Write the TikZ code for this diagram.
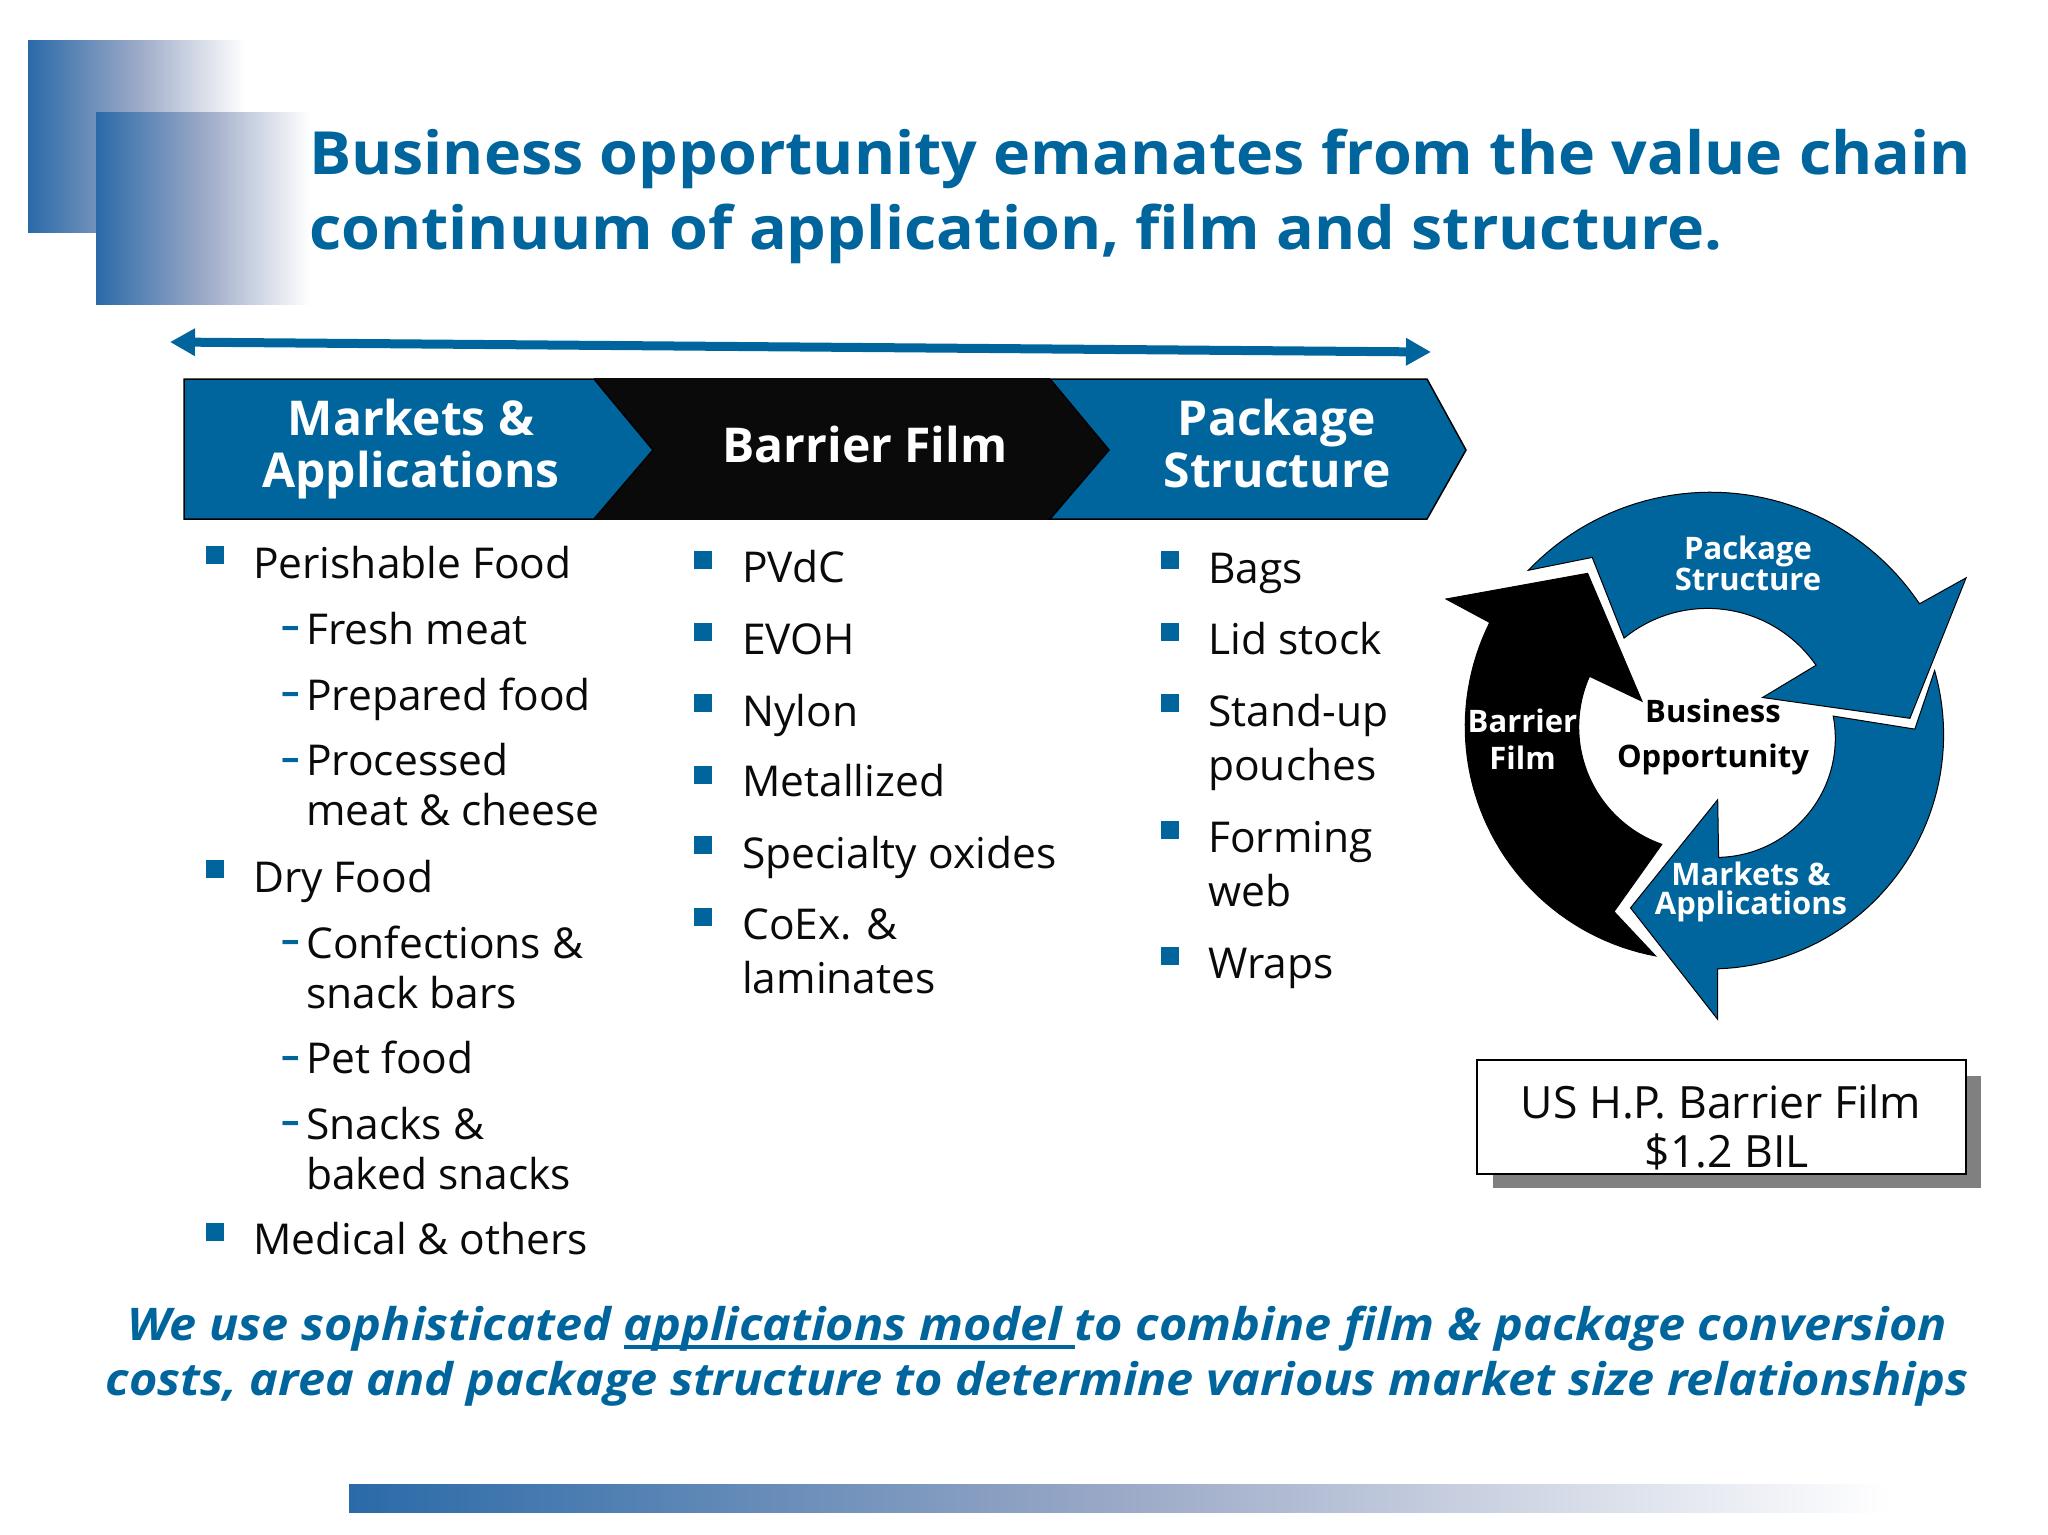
\documentclass[tikz,border=0pt]{standalone}
\usepackage{fontspec}
\setmainfont{Open Sans}
\newfontfamily\titlefont[FakeStretch=1.055]{Open Sans}
\newfontfamily\notefont[FakeStretch=1.08]{Open Sans}
\usetikzlibrary{arrows.meta}
\definecolor{brand}{HTML}{00659C}
\definecolor{grad}{HTML}{2A6AA8}
\definecolor{gradmid}{HTML}{9BA9C7}
\definecolor{ink}{HTML}{0A0A0A}
\newsavebox\ulbox
\newcommand\thickul[1]{\sbox\ulbox{#1}\rlap{\rule[-9pt]{\wd\ulbox}{4.5pt}}\usebox\ulbox}
\tikzset{
  titletext/.style={anchor=west,inner sep=0,text=brand,font=\titlefont\fontsize{59.5}{75}\selectfont\bfseries,align=left},
  chevlabel/.style={inner sep=0,text=white,align=center,font=\fontsize{48}{52}\selectfont\bfseries},
  wheelwhite/.style={inner sep=0,text=white,align=center,font=\fontsize{31}{29}\selectfont\bfseries},
  wheelblack/.style={inner sep=0,text=black,align=center,font=\fontsize{31}{45}\selectfont\bfseries},
  item/.style={anchor=west,inner sep=0,align=left,text=ink,font=\fontsize{42.5}{50}\selectfont,
     execute at begin node=\strut,execute at end node=\strut},
  itemwide/.style={item,font=\fontsize{42.5}{54}\selectfont},
  bulletmark/.style={fill=brand,inner sep=0,minimum size=18},
  dashmark/.style={anchor=west,inner sep=0,text=brand,font=\fontsize{37}{51}\selectfont\bfseries,
     execute at begin node=\strut},
  chev/.style={fill=brand,draw=black,line width=1.5},
  blade/.style={draw=black,line width=1},
  fade/.style={left color=grad,right color=white,middle color=gradmid,draw=none},
}
\begin{document}
\begin{tikzpicture}[x=1pt,y=-1pt]
\useasboundingbox (0,0) rectangle (2048,1534);
% corner squares
\shade[fade] (28,40) rectangle (245,232);
\shade[fade] (96,112) rectangle (310,304);
\shade[fade] (349,1484) rectangle (1890,1512);
% title
\node[titletext] (title) at (309,196.5) {Business opportunity emanates from the value chain\\continuum of application, film and structure.};
% range arrow
\coordinate (rangeL) at (170,342);
\coordinate (rangeR) at (1431,352);
\draw[brand,line width=9,{Triangle[length=25,width=26]}-{Triangle[length=25,width=26]}] (rangeL) -- (rangeR);
% chevrons
\fill[ink] (594,379) -- (1050,379) -- (1109,450) -- (1050,519) -- (594,519) -- (653,450) -- cycle;
\draw[ink,line width=1.5] (594,379) -- (1050,379) (594,519) -- (1050,519);
\draw[chev] (184,379) -- (594,379) -- (653,450) -- (594,519) -- (184,519) -- cycle;
\draw[chev] (1050,379) -- (1427,379) -- (1466,450) -- (1427,519) -- (1050,519) -- (1109,450) -- cycle;
\node[chevlabel] (chevMarkets) at (411,449) {Markets \&\\Applications};
\node[chevlabel] (chevBarrier) at (865,444) {Barrier Film};
\node[chevlabel] (chevPackage) at (1277,443.5) {Package\\Structure};
% lists
\node[bulletmark] (b11) at (215,555) {};
\node[item] (t11) at (253,568) {Perishable Food};
\node[dashmark] (d1) at (281,628) {–};
\node[item] (t12) at (306,634) {Fresh meat};
\node[dashmark] (d2) at (281,694) {–};
\node[item] (t13) at (306,700) {Prepared food};
\node[dashmark] (d3) at (281,760) {–};
\node[item] (t14) at (306,792) {Processed\\meat \& cheese};
\node[bulletmark] (b12) at (215,868.5) {};
\node[item] (t15) at (253,882) {Dry Food};
\node[dashmark] (d4) at (281,942) {–};
\node[item] (t16) at (306,974.5) {Confections \&\\snack bars};
\node[dashmark] (d5) at (281,1058) {–};
\node[item] (t17) at (306,1063) {Pet food};
\node[dashmark] (d6) at (281,1123) {–};
\node[item] (t18) at (306,1155.5) {Snacks \&\\baked snacks};
\node[bulletmark] (b13) at (215,1231.5) {};
\node[item] (t19) at (253,1244) {Medical \& others};
%
\node[bulletmark] (b21) at (702.5,560) {};
\node[item] (t21) at (742,572.5) {PVdC};
\node[bulletmark] (b22) at (702.5,632) {};
\node[item] (t22) at (742,644.5) {EVOH};
\node[bulletmark] (b23) at (702.5,702.5) {};
\node[item] (t23) at (742,716) {Nylon};
\node[bulletmark] (b24) at (702.5,774.5) {};
\node[item] (t24) at (742,786.5) {Metallized};
\node[bulletmark] (b25) at (702.5,845) {};
\node[item] (t25) at (742,858) {Specialty oxides};
\node[bulletmark] (b26) at (702.5,917) {};
\node[itemwide] (t26) at (742,959.5) {CoEx. \&\\laminates};
%
\node[bulletmark] (b31) at (1170,560) {};
\node[item] (t31) at (1208,573) {Bags};
\node[bulletmark] (b32) at (1170,632) {};
\node[item] (t32) at (1208,644.5) {Lid stock};
\node[bulletmark] (b33) at (1170,702.5) {};
\node[itemwide] (t33) at (1208,745) {Stand-up\\pouches};
\node[bulletmark] (b34) at (1170,829.5) {};
\node[itemwide] (t34) at (1208,872) {Forming\\web};
\node[bulletmark] (b35) at (1170,956) {};
\node[item] (t35) at (1208,968) {Wraps};
% wheel
\draw[blade,fill=brand] (1592.2,557.4) -- plot[domain=223.6:326.2,samples=50,variable=\a] ({1710.5+251.5*cos(\a)},{743.7+251.5*sin(\a)})
  -- (1966.1,577.8) -- (1909.9,718.3) -- (1762.5,697.5)
  -- plot[domain=325.3:230.8,samples=50,variable=\a] ({1707.5+132*cos(\a)},{740.4+132*sin(\a)}) -- cycle;
\draw[blade,fill=black] (1446,599) -- (1587.6,573.3) -- (1642,701.2)
  -- plot[domain=204:109.4,samples=50,variable=\a] ({1703.2+124.5*cos(\a)},{726.9+124.5*sin(\a)})
  -- (1614,911.6)
  -- plot[domain=100.6:206.5,samples=50,variable=\a] ({1698.5+233.3*cos(\a)},{726.6+233.3*sin(\a)}) -- cycle;
\draw[blade,fill=brand] (1914.8,729.1)
  -- plot[domain=-15.9:88,samples=50,variable=\a] ({1709.4+234.2*cos(\a)},{734.8+234.2*sin(\a)})
  -- (1717.7,1019.4) -- (1630.5,907.9) -- (1717.7,799.7)
  -- plot[domain=88.8:-10.7,samples=50,variable=\a] ({1716.1+119.2*cos(\a)},{738.2+119.2*sin(\a)}) -- cycle;
\node[wheelwhite] (wPackage) at (1748,563) {Package\\Structure};
\node[wheelwhite] (wMarkets) at (1751,891.5) {Markets \&\\Applications};
\node[wheelwhite,font=\fontsize{31}{37}\selectfont\bfseries] (wBarrier) at (1522.5,739) {Barrier\\Film};
\node[wheelblack] (wCenter) at (1713,737) {Business\\Opportunity};
% box
\fill[gray] (1493,1076) rectangle (1981,1188);
\node[draw=black,line width=2,fill=white,minimum width=489,minimum height=114,inner sep=0,anchor=north west,
  align=center,text=ink,font=\fontsize{44.5}{49}\selectfont] (market) at (1475.5,1059) {\rule{0pt}{54pt}US H.P. Barrier Film\\\hspace*{12pt}\$1.2 BIL};
% bottom note
\node[inner sep=0,align=center,text=brand,font=\notefont\fontsize{45}{55}\selectfont\bfseries\itshape] (note) at (1037,1356)
  {We use sophisticated \thickul{applications model\ }to combine film \& package conversion\\costs, area and package structure to determine various market size relationships};
\end{tikzpicture}
\end{document}
